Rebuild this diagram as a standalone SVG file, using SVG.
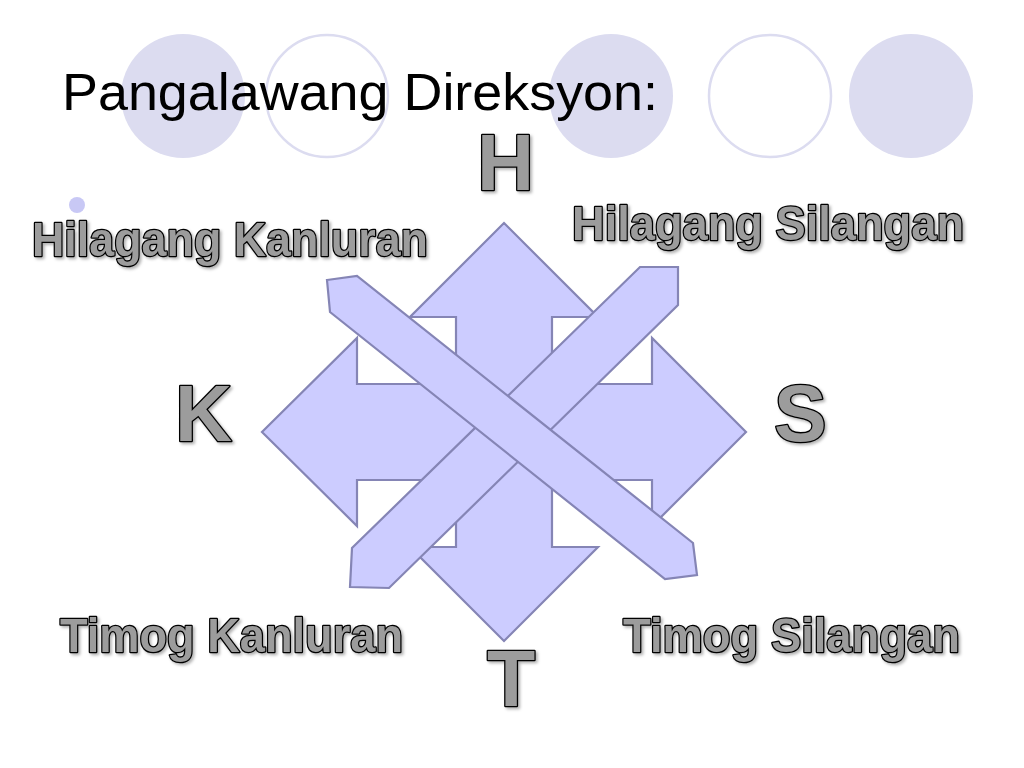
<svg xmlns="http://www.w3.org/2000/svg" width="1024" height="768" viewBox="0 0 1024 768">
<defs>
<style>
.cf{fill:#DCDCF0;stroke:none}
.co{fill:#FFFFFF;stroke:#DCDCF0;stroke-width:2.5}
.shape{fill:#CCCCFF;stroke:#8585B5;stroke-width:2.2;stroke-linejoin:miter}
.lbl{font-family:"Liberation Sans",Arial,sans-serif;font-weight:bold;fill:#9C9C9C;stroke:#000000;stroke-width:2.6;stroke-linejoin:round;paint-order:stroke fill;filter:url(#sh)}
.big{font-size:79px}
.mid{font-size:48px}
.title{font-family:"Liberation Sans",Arial,sans-serif;font-size:52px;fill:#000000}
</style>
<filter id="sh" x="-10%" y="-20%" width="120%" height="150%">
<feDropShadow dx="2" dy="2" stdDeviation="1.5" flood-color="#000000" flood-opacity="0.3"/>
</filter>
</defs>
<rect width="1024" height="768" fill="#FFFFFF"/>
<g id="decor">
<circle class="cf" cx="183" cy="96" r="62"/>
<circle class="co" cx="327" cy="96" r="61"/>
<circle class="cf" cx="611" cy="96" r="62"/>
<circle class="co" cx="770" cy="96" r="61"/>
<circle class="cf" cx="911" cy="96" r="62"/>
<circle cx="77" cy="205" r="8" fill="#C8C8F5"/>
</g>
<g id="title">
<text class="title" x="62" y="110" textLength="596" lengthAdjust="spacingAndGlyphs">Pangalawang Direksyon:</text>
</g>
<g id="compass">
<polygon class="shape" points="504,223 598,317 552,317 552,384 652,384 652,338 746,432 652,526 652,480 552,480 552,547 598,547 504,641 410,547 456,547 456,480 357,480 357,526 262,432 357,338 357,384 456,384 456,317 410,317"/>
</g>
<g id="bar-ne-sw">
<polygon class="shape" points="640,267 678,267 678,305 389,588 350,587 352,548"/>
</g>
<g id="bar-nw-se">
<polygon class="shape" points="327,280 357,276 693,543 697,575 665,579 330,312"/>
</g>
<g id="label-H"><text class="lbl big" x="477" y="190">H</text></g>
<g id="label-K"><text class="lbl big" x="175" y="441">K</text></g>
<g id="label-S"><text class="lbl big" x="774" y="441">S</text></g>
<g id="label-T"><text class="lbl big" x="487" y="706">T</text></g>
<g id="label-HK"><text class="lbl mid" x="32" y="256" textLength="396" lengthAdjust="spacingAndGlyphs">Hilagang Kanluran</text></g>
<g id="label-HS"><text class="lbl mid" x="572" y="240" textLength="392" lengthAdjust="spacingAndGlyphs">Hilagang Silangan</text></g>
<g id="label-TK"><text class="lbl mid" x="60" y="652" textLength="343" lengthAdjust="spacingAndGlyphs">Timog Kanluran</text></g>
<g id="label-TS"><text class="lbl mid" x="623" y="652" textLength="337" lengthAdjust="spacingAndGlyphs">Timog Silangan</text></g>
</svg>
